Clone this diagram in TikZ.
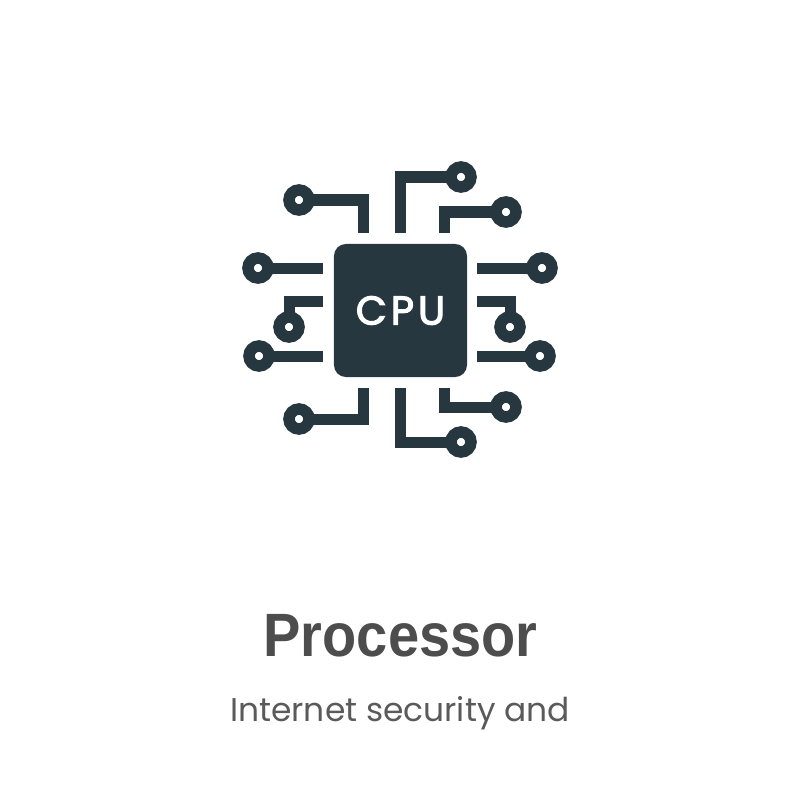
\documentclass[tikz,border=0pt]{standalone}
\usepackage{fontspec}
\setmainfont{Liberation Sans}
\newfontfamily\chipfont[LetterSpace=10,FakeBold=3]{Poppins}
\newfontfamily\subfont{Poppins}
\newfontfamily\titlefont[FakeStretch=0.915]{Liberation Sans}
\definecolor{chipdark}{HTML}{263740}
\definecolor{titlegray}{HTML}{4D4D4D}
\definecolor{subgray}{HTML}{5A5A5A}
\tikzset{
  pad/.style={circle,draw=chipdark,line width=0.115cm,minimum size=0.2cm,inner sep=0pt,outer sep=0pt},
  trace/.style={draw=chipdark,line width=0.11cm},
}

\begin{document}
\begin{tikzpicture}[x=0.01cm,y=-0.01cm]
            \useasboundingbox (0,0) rectangle (800,800);

            \node[fill=chipdark,rounded corners=0.12cm,minimum size=1.33cm,inner sep=0pt,text=white] (cpu) at (400.5,310.5) {\chipfont\fontsize{11.4pt}{12pt}\selectfont CPU};

            % pads above the chip
            \node[pad] (topleft) at (299,200) {};
            \node[pad] (topmid) at (461,177) {};
            \node[pad] (topright) at (506,212) {};
            \coordinate (topleftend) at (363,233);
            \coordinate (topmidend) at (400,233);
            \coordinate (toprightend) at (444,233);
            \draw[trace] (topleft) -| (topleftend);
            \draw[trace] (topmid) -| (topmidend);
            \draw[trace] (topright) -| (toprightend);

            % pads left of the chip
            \node[pad] (leftup) at (258,268) {};
            \node[pad] (leftin) at (289,327) {};
            \node[pad] (leftlow) at (259,356) {};
            \coordinate (leftupend) at (323,268);
            \coordinate (leftinend) at (323,301);
            \coordinate (leftlowend) at (323,356);
            \draw[trace] (leftup) -- (leftupend);
            \draw[trace] (leftinend) -| (leftin);
            \draw[trace] (leftlow) -- (leftlowend);

            % pads right of the chip
            \node[pad] (rightup) at (542,268) {};
            \node[pad] (rightin) at (510,327) {};
            \node[pad] (rightlow) at (540,356) {};
            \coordinate (rightupend) at (477,268);
            \coordinate (rightinend) at (477,301);
            \coordinate (rightlowend) at (477,356);
            \draw[trace] (rightup) -- (rightupend);
            \draw[trace] (rightinend) -| (rightin);
            \draw[trace] (rightlow) -- (rightlowend);

            % pads below the chip
            \node[pad] (botleft) at (299,419) {};
            \node[pad] (botmid) at (461,442) {};
            \node[pad] (botright) at (506,407) {};
            \coordinate (botleftend) at (363,388);
            \coordinate (botmidend) at (400,388);
            \coordinate (botrightend) at (444,388);
            \draw[trace] (botleft) -| (botleftend);
            \draw[trace] (botmid) -| (botmidend);
            \draw[trace] (botright) -| (botrightend);

            \node[text=titlegray,inner sep=0pt,anchor=base] (title) at (400.5,656) {\titlefont\fontsize{17.4pt}{20pt}\selectfont\bfseries Processor};
            \node[text=subgray,inner sep=0pt,anchor=base] (subtitle) at (400,721) {\subfont\fontsize{9.35pt}{12pt}\selectfont Internet security and};
        \end{tikzpicture}
\end{document}
